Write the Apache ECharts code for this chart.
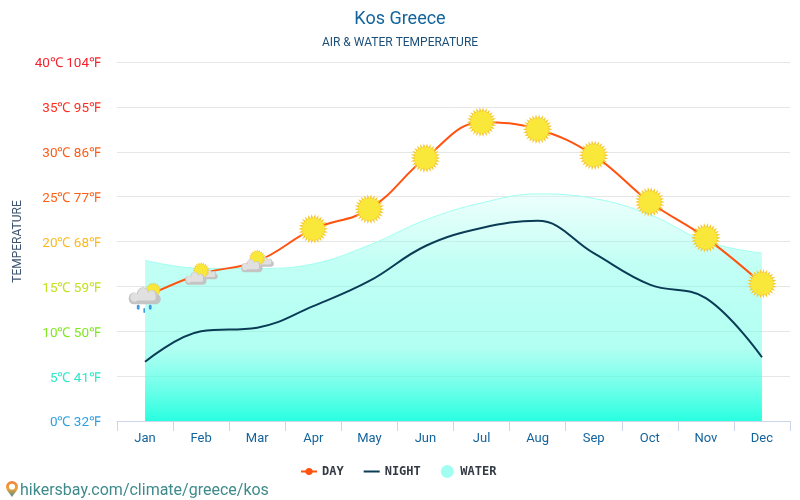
<!DOCTYPE html>
<html lang="en">
<head>
    <meta charset="utf-8">
    <title>Kos Greece</title>
    <style>
        html, body { margin: 0px; padding: 0px; background: #fff; }
        #chart { width: 800px; height: 500px; }
    </style>
    <script src="https://cdn.jsdelivr.net/npm/echarts@6/dist/echarts.min.js"></script>
</head>
<body>
<div id="chart"></div>
<script type="text/javascript">
    var months = ['Jan', 'Feb', 'Mar', 'Apr', 'May', 'Jun', 'Jul', 'Aug', 'Sep', 'Oct', 'Nov', 'Dec'];
    var dayTemp = [13.8, 16.4, 17.8, 21.4, 23.6, 29.3, 33.3, 32.5, 29.6, 24.4, 20.4, 15.3];
    var nightTemp = [6.6, 10.0, 10.4, 12.8, 15.6, 19.5, 21.5, 22.3, 18.7, 15.2, 13.7, 7.1];
    var waterTemp = [17.9, 17.0, 17.0, 17.5, 19.6, 22.4, 24.3, 25.3, 24.8, 23.0, 20.0, 18.7];
    var dayWeather = ['rain', 'partly', 'partly', 'sun', 'sun', 'sun', 'sun', 'sun', 'sun', 'sun', 'sun', 'sun'];

    var tickLabels = {
        0: '0℃ 32℉', 5: '5℃ 41℉', 10: '10℃ 50℉', 15: '15℃ 59℉', 20: '20℃ 68℉',
        25: '25℃ 77℉', 30: '30℃ 86℉', 35: '35℃ 95℉', 40: '40℃ 104℉'
    };
    var tickColors = {
        0: '#2f9fe0', 5: '#2ae8c8', 10: '#7fe81e', 15: '#c4e01f', 20: '#fbb91f',
        25: '#ff5f14', 30: '#ff5a14', 35: '#ff2d1f', 40: '#f5222d'
    };

    function svgData(body, w, h) {
        var svg = '<svg xmlns="http://www.w3.org/2000/svg" width="' + w + '" height="' + h + '" viewBox="0 0 ' + w + ' ' + h + '">' + body + '</svg>';
        return 'data:image/svg+xml;charset=utf-8,' + encodeURIComponent(svg);
    }

    function svgIcon(body) {
        return 'image://' + svgData(body, 64, 64);
    }

    // spiky sun outline
    function sunShape(cx, cy, rOut, rIn, spikes) {
        var pts = [];
        for (var i = 0; i < spikes * 2; i++) {
            var r = i % 2 == 0 ? rOut : rIn;
            var a = Math.PI * i / spikes;
            pts.push((cx + r * Math.cos(a)).toFixed(2) + ',' + (cy + r * Math.sin(a)).toFixed(2));
        }
        return '<polygon points="' + pts.join(' ') + '" fill="#f6c92f"/>' +
            '<circle cx="' + cx + '" cy="' + cy + '" r="' + (rIn * 1.02) + '" fill="#f9e839"/>';
    }

    function cloudShape(x, y, sx, sy) {
        return '<g transform="translate(' + x + ',' + y + ') scale(' + sx + ',' + sy + ')">' +
            '<g fill="#c4c4c4"><circle cx="10" cy="17" r="9"/><circle cx="26" cy="11" r="11"/>' +
            '<circle cx="42" cy="13" r="9"/><circle cx="50" cy="18" r="7"/><rect x="8" y="14" width="46" height="12" rx="6"/></g>' +
            '<g fill="#e0e0e0"><circle cx="11" cy="15" r="7"/><circle cx="26" cy="10" r="9"/><circle cx="41" cy="12" r="7"/>' +
            '<rect x="10" y="11" width="38" height="9" rx="4"/></g>' +
            '</g>';
    }

    var weatherIcons = {
        sun: svgIcon(sunShape(32, 32, 32, 23, 26)),
        partly: svgIcon(cloudShape(32, 24, 0.55, 0.7) + sunShape(32, 26, 16, 12, 20) + cloudShape(1, 28, 0.72, 0.95)),
        rain: svgIcon(sunShape(47, 19, 14, 11, 20) + cloudShape(1, 14, 1.05, 1.2) +
            '<g fill="#3a9be0"><rect x="17" y="46" width="5" height="9" rx="2.5"/><rect x="29" y="52" width="3" height="9" rx="1.5"/>' +
            '<rect x="39" y="46" width="5" height="9" rx="2.5"/></g>')
    };
    var weatherSizes = { sun: 30, partly: 34, rain: 35 };

    var pinImage = svgData(
        '<defs><linearGradient id="p" x1="0" y1="0" x2="0" y2="1">' +
        '<stop offset="0" stop-color="#f2803a"/><stop offset="0.5" stop-color="#eda33a"/><stop offset="1" stop-color="#3f8a8a"/>' +
        '</linearGradient></defs>' +
        '<path fill="url(#p)" fill-rule="evenodd" d="M6 0A6 6 0 0 1 12 6C12 10 8 13 6 17C4 13 0 10 0 6A6 6 0 0 1 6 0ZM6 3A3 3 0 0 0 6 9A3 3 0 0 0 6 3Z"/>',
        12, 17
    );

    var dayPoints = [];
    for (var i in dayTemp) {
        dayPoints.push({
            value: dayTemp[i],
            symbol: weatherIcons[dayWeather[i]],
            symbolSize: weatherSizes[dayWeather[i]]
        });
    }

    // legend icons: the two zero-size corners keep the 16x13 box
    var iconBox = 'M0 0L0.01 0L0 0ZM16 13L15.99 13L16 13Z';

    var myChart = echarts.init(document.getElementById('chart'));

    var option = {
        animation: false,
        textStyle: { fontFamily: 'Roboto' },
        title: [
            {
                text: 'Kos Greece',
                left: 'center',
                top: 5,
                textStyle: { color: '#14649c', fontSize: 18, fontWeight: 'normal', fontFamily: 'Roboto' }
            },
            {
                text: 'AIR & WATER TEMPERATURE',
                left: 'center',
                top: 32,
                textStyle: { color: '#1c4f78', fontSize: 12, fontWeight: 'normal', fontFamily: 'Roboto' }
            }
        ],
        grid: { left: 117, right: 10, top: 62, bottom: 79 },
        legend: {
            left: 296,
            top: 460,
            itemGap: 20,
            itemWidth: 16,
            itemHeight: 13,
            textStyle: { color: '#333a44', fontSize: 12, fontWeight: 'bold', fontFamily: 'DejaVu Sans Mono' },
            data: [
                {
                    name: 'DAY',
                    icon: 'path://M0 5.5H4.3A4 4 0 0 1 11.7 5.5H16V7.5H11.7A4 4 0 0 1 4.3 7.5H0Z' + iconBox,
                    itemStyle: { color: '#ff5310' }
                },
                {
                    name: 'NIGHT',
                    icon: 'path://M0 5.5H16V7.5H0Z' + iconBox,
                    itemStyle: { color: '#0b3c55' }
                },
                {
                    name: 'WATER',
                    icon: 'circle',
                    itemStyle: { color: '#a0fff0' }
                }
            ]
        },
        xAxis: {
            type: 'category',
            data: months,
            boundaryGap: true,
            axisLine: { lineStyle: { color: '#ccd6eb', width: 1 } },
            axisTick: { show: true, length: 10, lineStyle: { color: '#ccd6eb' } },
            axisLabel: { color: '#14649c', fontSize: 13, margin: 11, fontFamily: 'Roboto' },
            splitLine: { show: false }
        },
        yAxis: {
            type: 'value',
            min: 0,
            max: 40,
            interval: 5,
            name: 'TEMPERATURE',
            nameLocation: 'middle',
            nameGap: 86,
            nameTextStyle: { color: '#3d5570', fontSize: 12, fontFamily: 'Roboto' },
            axisLine: { show: false },
            axisTick: { show: false },
            axisLabel: {
                margin: 16,
                fontSize: 13.5,
                fontFamily: 'Roboto',
                formatter: function (value) { return '{t|' + tickLabels[value] + '}'; },
                color: function (value) { return tickColors[value]; },
                rich: {
                    t: { fontSize: 13.5, fontFamily: 'Roboto', padding: [4, 0, 0, 0] }
                }
            },
            splitLine: { lineStyle: { color: '#e6e6e6', width: 1 } }
        },
        series: [
            {
                name: 'WATER',
                type: 'line',
                data: waterTemp,
                smooth: 0.4,
                symbol: 'none',
                z: 1,
                lineStyle: { color: '#9ffff0', width: 1 },
                itemStyle: { color: '#a0fff0' },
                areaStyle: {
                    opacity: 1,
                    color: {
                        type: 'linear', x: 0, y: 0, x2: 0, y2: 1,
                        colorStops: [
                            { offset: 0, color: 'rgba(200,255,245,0.35)' },
                            { offset: 0.3, color: 'rgba(120,255,232,0.45)' },
                            { offset: 0.68, color: 'rgba(100,255,230,0.5)' },
                            { offset: 1, color: 'rgba(40,255,224,1)' }
                        ]
                    }
                }
            },
            {
                name: 'NIGHT',
                type: 'line',
                data: nightTemp,
                smooth: 0.4,
                symbol: 'none',
                z: 3,
                lineStyle: { color: '#0b3c55', width: 2 },
                itemStyle: { color: '#0b3c55' }
            },
            {
                name: 'DAY',
                type: 'line',
                data: dayPoints,
                smooth: 0.4,
                showAllSymbol: true,
                z: 4,
                lineStyle: { color: '#ff5310', width: 2 },
                itemStyle: { color: '#ff5310' }
            }
        ],
        graphic: [
            {
                type: 'text',
                left: 20,
                top: 483,
                style: { text: 'hikersbay.com/climate/greece/kos', fill: '#3f8a8a', font: '16px Roboto' }
            },
            {
                type: 'image',
                left: 6,
                top: 481,
                style: { image: pinImage, width: 12, height: 16 }
            }
        ]
    };

    myChart.setOption(option, true);
</script>
</body>
</html>
